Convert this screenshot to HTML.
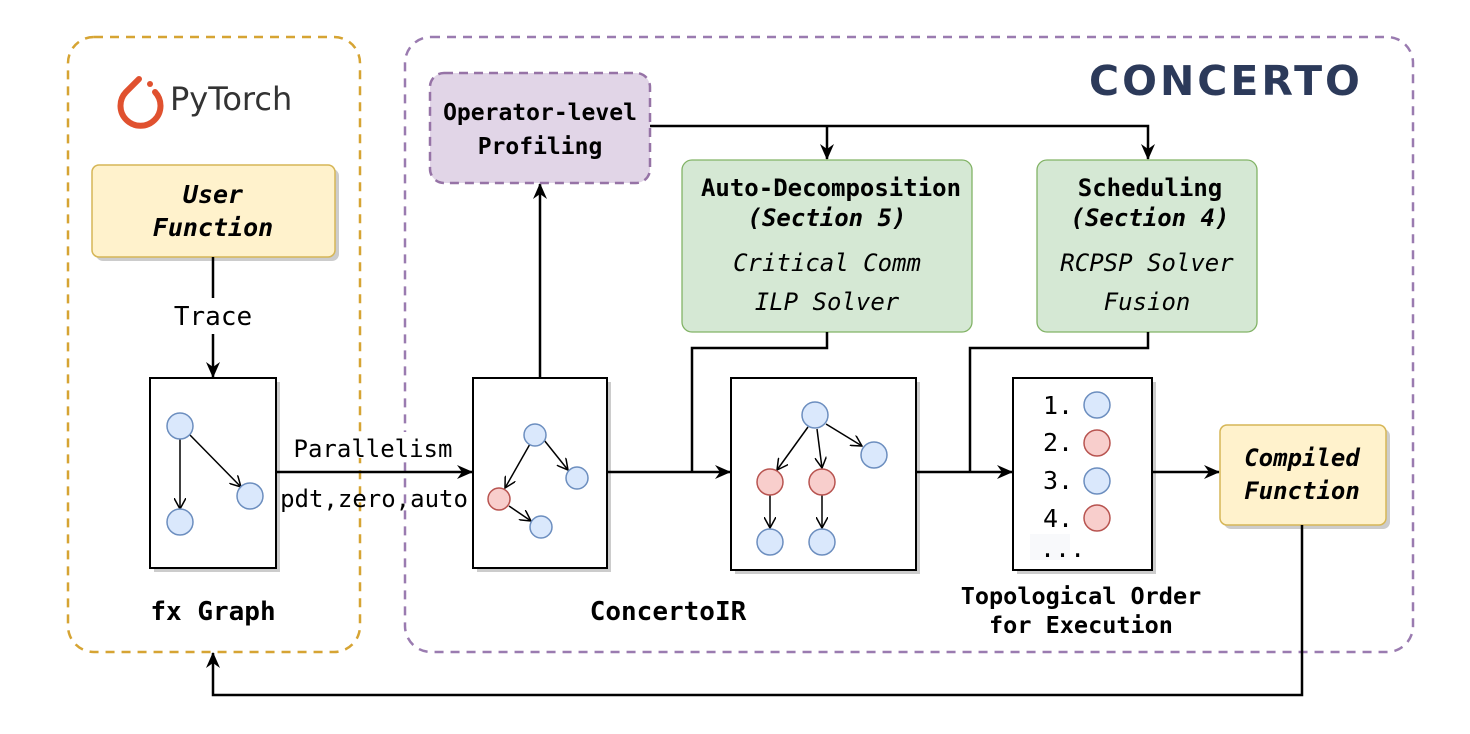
<!DOCTYPE html>
<html><head><meta charset="utf-8"><style>
html,body{margin:0;padding:0;background:#fff;}
svg{display:block}
text{font-family:"DejaVu Sans Mono","Liberation Mono",monospace;fill:#000;}
.b{font-weight:bold}
.i{font-style:italic}
</style></head><body>
<svg width="1470" height="734" viewBox="0 0 1470 734" xmlns="http://www.w3.org/2000/svg">
<defs>
<marker id="a" markerWidth="16" markerHeight="14" refX="15" refY="7" orient="auto" markerUnits="userSpaceOnUse">
<path d="M0,0 L16,7 L0,14 L5,7 Z" fill="#000"/>
</marker>
<marker id="s" markerWidth="12" markerHeight="12" refX="11" refY="6" orient="auto" markerUnits="userSpaceOnUse">
<path d="M0,0 L11,6 L0,12" fill="none" stroke="#000" stroke-width="1.5"/>
</marker>
</defs>
<!-- outer dashed containers -->
<rect x="68" y="37" width="292" height="615" rx="26" fill="none" stroke="#d6a433" stroke-width="2.5" stroke-dasharray="9,7"/>
<rect x="405" y="37" width="1008" height="615" rx="26" fill="none" stroke="#9a7bb0" stroke-width="2.5" stroke-dasharray="9,7"/>
<!-- PyTorch logo -->
<path d="M139,79 L126,92 A20,20 0 1,0 155,92" fill="none" stroke="#e0512f" stroke-width="6" stroke-linecap="round"/>
<circle cx="150" cy="84" r="3" fill="#e0512f"/>
<text x="170" y="110" style="font-family:'DejaVu Sans','Liberation Sans',sans-serif;font-size:32px;fill:#333">PyTorch</text>
<text x="1089" y="95" class="b" style="font-family:'DejaVu Sans','Liberation Sans',sans-serif;font-size:41px;fill:#2c3a5a;letter-spacing:3px">CONCERTO</text>
<!-- User Function -->
<rect x="96" y="169" width="243" height="92" rx="7" fill="#ccc"/>
<rect x="92" y="165" width="243" height="92" rx="7" fill="#fff2cc" stroke="#d6b656" stroke-width="1.5"/>
<text x="213" y="203" class="b i" font-size="25" text-anchor="middle">User</text>
<text x="213" y="236" class="b i" font-size="25" text-anchor="middle">Function</text>
<line x1="213" y1="257" x2="213" y2="298" stroke="#000" stroke-width="2.5"/>
<text x="213" y="325" font-size="26" text-anchor="middle">Trace</text>
<line x1="213" y1="334" x2="213" y2="377" stroke="#000" stroke-width="2.5" marker-end="url(#a)"/>
<!-- fx graph -->
<rect x="154" y="382" width="126" height="190" fill="#ccc"/>
<rect x="150" y="378" width="126" height="190" fill="#fff" stroke="#000" stroke-width="2"/>
<line x1="180" y1="437" x2="180" y2="509" stroke="#000" stroke-width="1.5" marker-end="url(#s)"/>
<line x1="189" y1="434" x2="241" y2="487" stroke="#000" stroke-width="1.5" marker-end="url(#s)"/>
<circle cx="180" cy="426" r="13" fill="#dae8fc" stroke="#6c8ebf" stroke-width="1.5"/>
<circle cx="180" cy="522" r="13" fill="#dae8fc" stroke="#6c8ebf" stroke-width="1.5"/>
<circle cx="250" cy="496" r="13" fill="#dae8fc" stroke="#6c8ebf" stroke-width="1.5"/>
<text x="213" y="620" class="b" font-size="26" text-anchor="middle">fx Graph</text>
<rect x="292" y="432" width="162" height="26" fill="#fff"/>
<text x="373" y="457" font-size="24" text-anchor="middle">Parallelism</text>
<text x="374" y="507" font-size="24" text-anchor="middle">pdt,zero,auto</text>
<line x1="276" y1="472" x2="472" y2="472" stroke="#000" stroke-width="2.5" marker-end="url(#a)"/>
<!-- IR box 1 -->
<rect x="477" y="382" width="134" height="190" fill="#ccc"/>
<rect x="473" y="378" width="134" height="190" fill="#fff" stroke="#000" stroke-width="2"/>
<line x1="530" y1="444" x2="505" y2="488" stroke="#000" stroke-width="1.5" marker-end="url(#s)"/>
<line x1="544" y1="440" x2="568" y2="470" stroke="#000" stroke-width="1.5" marker-end="url(#s)"/>
<line x1="509" y1="506" x2="531" y2="521" stroke="#000" stroke-width="1.5" marker-end="url(#s)"/>
<circle cx="535" cy="435" r="11" fill="#dae8fc" stroke="#6c8ebf" stroke-width="1.5"/>
<circle cx="577" cy="478" r="11" fill="#dae8fc" stroke="#6c8ebf" stroke-width="1.5"/>
<circle cx="499" cy="499" r="11" fill="#f8cecc" stroke="#b85450" stroke-width="1.5"/>
<circle cx="541" cy="527" r="11" fill="#dae8fc" stroke="#6c8ebf" stroke-width="1.5"/>
<text x="668" y="620" class="b" font-size="26" text-anchor="middle">ConcertoIR</text>
<line x1="540" y1="378" x2="540" y2="184" stroke="#000" stroke-width="2.5" marker-end="url(#a)"/>
<!-- Profiling -->
<rect x="430" y="73" width="220" height="110" rx="14" fill="#e1d5e7" stroke="#9673a6" stroke-width="2.5" stroke-dasharray="9,6"/>
<text x="540" y="120" class="b" font-size="23" text-anchor="middle">Operator-level</text>
<text x="540" y="154" class="b" font-size="23" text-anchor="middle">Profiling</text>
<polyline points="650,126 1148,126 1148,159" fill="none" stroke="#000" stroke-width="2.5" marker-end="url(#a)"/>
<line x1="827" y1="126" x2="827" y2="159" stroke="#000" stroke-width="2.5" marker-end="url(#a)"/>
<!-- green boxes -->
<rect x="682" y="160" width="290" height="172" rx="10" fill="#d5e8d4" stroke="#82b366" stroke-width="1.3"/>
<text x="831" y="196" class="b" font-size="24" text-anchor="middle">Auto-Decomposition</text>
<text x="827" y="226" class="b i" font-size="24" text-anchor="middle">(Section 5)</text>
<text x="827" y="271" class="i" font-size="24" text-anchor="middle">Critical Comm</text>
<text x="827" y="310" class="i" font-size="24" text-anchor="middle">ILP Solver</text>
<rect x="1037" y="160" width="220" height="172" rx="10" fill="#d5e8d4" stroke="#82b366" stroke-width="1.3"/>
<text x="1150" y="196" class="b" font-size="24" text-anchor="middle">Scheduling</text>
<text x="1150" y="226" class="b i" font-size="24" text-anchor="middle">(Section 4)</text>
<text x="1147" y="271" class="i" font-size="24" text-anchor="middle">RCPSP Solver</text>
<text x="1147" y="310" class="i" font-size="24" text-anchor="middle">Fusion</text>
<polyline points="827,332 827,348 692,348 692,472" fill="none" stroke="#000" stroke-width="2.5"/>
<polyline points="1148,332 1148,348 970,348 970,472" fill="none" stroke="#000" stroke-width="2.5"/>
<line x1="607" y1="472" x2="730" y2="472" stroke="#000" stroke-width="2.5" marker-end="url(#a)"/>
<!-- IR box 2 -->
<rect x="735" y="382" width="185" height="192" fill="#ccc"/>
<rect x="731" y="378" width="185" height="192" fill="#fff" stroke="#000" stroke-width="2"/>
<line x1="808" y1="427" x2="777" y2="470" stroke="#000" stroke-width="1.5" marker-end="url(#s)"/>
<line x1="817" y1="429" x2="822" y2="468" stroke="#000" stroke-width="1.5" marker-end="url(#s)"/>
<line x1="826" y1="424" x2="862" y2="446" stroke="#000" stroke-width="1.5" marker-end="url(#s)"/>
<line x1="770" y1="495" x2="770" y2="528" stroke="#000" stroke-width="1.5" marker-end="url(#s)"/>
<line x1="822" y1="495" x2="822" y2="528" stroke="#000" stroke-width="1.5" marker-end="url(#s)"/>
<circle cx="815" cy="415" r="13" fill="#dae8fc" stroke="#6c8ebf" stroke-width="1.5"/>
<circle cx="874" cy="455" r="13" fill="#dae8fc" stroke="#6c8ebf" stroke-width="1.5"/>
<circle cx="770" cy="482" r="13" fill="#f8cecc" stroke="#b85450" stroke-width="1.5"/>
<circle cx="822" cy="482" r="13" fill="#f8cecc" stroke="#b85450" stroke-width="1.5"/>
<circle cx="770" cy="542" r="13" fill="#dae8fc" stroke="#6c8ebf" stroke-width="1.5"/>
<circle cx="822" cy="542" r="13" fill="#dae8fc" stroke="#6c8ebf" stroke-width="1.5"/>
<line x1="916" y1="472" x2="1012" y2="472" stroke="#000" stroke-width="2.5" marker-end="url(#a)"/>
<!-- topo box -->
<rect x="1017" y="382" width="139" height="192" fill="#ccc"/>
<rect x="1013" y="378" width="139" height="192" fill="#fff" stroke="#000" stroke-width="2"/>
<text x="1043" y="414" font-size="25">1.</text>
<text x="1043" y="451" font-size="25">2.</text>
<text x="1043" y="489" font-size="25">3.</text>
<text x="1043" y="527" font-size="25">4.</text>
<rect x="1030" y="534" width="40" height="26" fill="#f8f9fb"/>
<text x="1040" y="557" font-size="25">...</text>
<circle cx="1097" cy="405" r="13" fill="#dae8fc" stroke="#6c8ebf" stroke-width="1.5"/>
<circle cx="1097" cy="443" r="13" fill="#f8cecc" stroke="#b85450" stroke-width="1.5"/>
<circle cx="1097" cy="481" r="13" fill="#dae8fc" stroke="#6c8ebf" stroke-width="1.5"/>
<circle cx="1097" cy="518" r="13" fill="#f8cecc" stroke="#b85450" stroke-width="1.5"/>
<text x="1081" y="604" class="b" font-size="23.5" text-anchor="middle">Topological Order</text>
<text x="1081" y="633" class="b" font-size="23.5" text-anchor="middle">for Execution</text>
<line x1="1152" y1="472" x2="1219" y2="472" stroke="#000" stroke-width="2.5" marker-end="url(#a)"/>
<!-- compiled -->
<rect x="1224" y="429" width="166" height="100" rx="7" fill="#ccc"/>
<rect x="1220" y="425" width="166" height="100" rx="7" fill="#fff2cc" stroke="#d6b656" stroke-width="1.5"/>
<text x="1302" y="466" class="b i" font-size="24" text-anchor="middle">Compiled</text>
<text x="1302" y="499" class="b i" font-size="24" text-anchor="middle">Function</text>
<polyline points="1302,525 1302,695 213,695 213,653" fill="none" stroke="#000" stroke-width="2.5" marker-end="url(#a)"/>
</svg>
</body></html>
